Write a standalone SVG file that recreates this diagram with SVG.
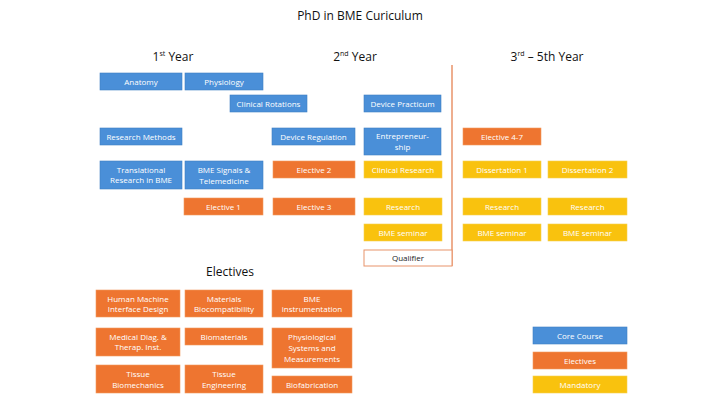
<svg xmlns="http://www.w3.org/2000/svg" width="720" height="405" viewBox="0 0 720 405">
<style>
text{font-family:"Open Sans","Liberation Sans",sans-serif;}
.b rect{fill:#4a8fd8;stroke:#3f7fc4;stroke-width:0.6}
.o rect{fill:#ee7530;stroke:#f29a60;stroke-width:0.6}
.y rect{fill:#f9c20e;stroke:#f5d050;stroke-width:0.6}
.n text{fill:#fff;font-size:8px;text-anchor:middle}
.h{font-size:12px;fill:#111;text-anchor:middle}
</style>
<rect width="720" height="405" fill="#fff"/>
<text x="360" y="20" class="h" style="font-size:12px">PhD in BME Curiculum</text>
<text x="173" y="61" class="h">1<tspan font-size="7" dy="-5">st</tspan><tspan dy="5">  Year</tspan></text>
<text x="355" y="61" class="h">2<tspan font-size="7" dy="-5">nd</tspan><tspan dy="5">  Year</tspan></text>
<text x="547" y="61" class="h">3<tspan font-size="7" dy="-5">rd</tspan><tspan dy="5"> – 5th Year</tspan></text>
<text x="230" y="276" class="h">Electives</text>
<g id="connectors"><line x1="452" y1="65" x2="452" y2="266" stroke="#e8936a" stroke-width="1.5"/></g>
<g id="anatomy" class="n b"><rect x="100" y="73" width="82" height="17"/><text x="141" y="84.5">Anatomy</text></g>
<g id="physiology" class="n b"><rect x="185" y="73" width="78" height="17"/><text x="224" y="84.5">Physiology</text></g>
<g id="clinrot" class="n b"><rect x="230" y="95" width="77" height="17"/><text x="268.5" y="106.5">Clinical Rotations</text></g>
<g id="devprac" class="n b"><rect x="364" y="95" width="77" height="17"/><text x="402.5" y="106.5">Device Practicum</text></g>
<g id="resmeth" class="n b"><rect x="100" y="128" width="82" height="17"/><text x="141" y="139.5">Research Methods</text></g>
<g id="devreg" class="n b"><rect x="272" y="128" width="83" height="17"/><text x="313.5" y="139.5">Device Regulation</text></g>
<g id="entre" class="n b"><rect x="364" y="128" width="77" height="27"/><text x="402.5" y="139">Entrepreneur-</text><text x="402.5" y="150">ship</text></g>
<g id="transl" class="n b"><rect x="100" y="161" width="82" height="28"/><text x="141" y="173">Translational</text><text x="141" y="183">Research in BME</text></g>
<g id="signals" class="n b"><rect x="185" y="161" width="78" height="28"/><text x="224" y="173">BME Signals &amp;</text><text x="224" y="184">Telemedicine</text></g>
<g id="el2" class="n o"><rect x="273" y="161" width="82" height="17"/><text x="314" y="172.5">Elective 2</text></g>
<g id="clinres" class="n y"><rect x="364" y="161" width="78" height="17"/><text x="403" y="172.5">Clinical  Research</text></g>
<g id="el1" class="n o"><rect x="184" y="198" width="79" height="17"/><text x="223.5" y="209.5">Elective 1</text></g>
<g id="el3" class="n o"><rect x="273" y="198" width="82" height="17"/><text x="314" y="209.5">Elective 3</text></g>
<g id="res2" class="n y"><rect x="364" y="198" width="78" height="17"/><text x="403" y="209.5">Research</text></g>
<g id="sem2" class="n y"><rect x="364" y="224" width="78" height="17"/><text x="403" y="235.5">BME seminar</text></g>
<g id="qual"><rect x="364" y="250" width="88" height="16" fill="#fff" stroke="#e8936a" stroke-width="1"/><text x="408" y="261" font-size="8" text-anchor="middle" fill="#222">Qualifier</text></g>
<g id="el47" class="n o"><rect x="463" y="128" width="78" height="17"/><text x="502" y="139.5">Elective 4-7</text></g>
<g id="diss1" class="n y"><rect x="463" y="161" width="78" height="17"/><text x="502" y="172.5">Dissertation 1</text></g>
<g id="diss2" class="n y"><rect x="548" y="161" width="79" height="17"/><text x="587.5" y="172.5">Dissertation 2</text></g>
<g id="res3" class="n y"><rect x="463" y="198" width="78" height="17"/><text x="502" y="209.5">Research</text></g>
<g id="res4" class="n y"><rect x="548" y="198" width="79" height="17"/><text x="587.5" y="209.5">Research</text></g>
<g id="sem3" class="n y"><rect x="463" y="224" width="78" height="17"/><text x="502" y="235.5">BME seminar</text></g>
<g id="sem4" class="n y"><rect x="548" y="224" width="79" height="17"/><text x="587.5" y="235.5">BME seminar</text></g>
<g id="hmi" class="n o"><rect x="96" y="290" width="84" height="27"/><text x="138" y="302">Human Machine</text><text x="138" y="312">Interface Design</text></g>
<g id="matbio" class="n o"><rect x="185" y="290" width="78" height="27"/><text x="224" y="302">Materials</text><text x="224" y="312">Biocompatibility</text></g>
<g id="bmeinst" class="n o"><rect x="272" y="290" width="80" height="27"/><text x="312" y="302">BME</text><text x="312" y="312">instrumentation</text></g>
<g id="meddiag" class="n o"><rect x="96" y="328" width="84" height="28"/><text x="138" y="340">Medical Diag. &amp;</text><text x="138" y="350">Therap. Inst.</text></g>
<g id="biomat" class="n o"><rect x="185" y="328" width="78" height="17"/><text x="224" y="339.5">Biomaterials</text></g>
<g id="physsys" class="n o"><rect x="272" y="328" width="80" height="40"/><text x="312" y="340">Physiological</text><text x="312" y="351">Systems and</text><text x="312" y="362">Measurements</text></g>
<g id="tisbio" class="n o"><rect x="96" y="365" width="84" height="28"/><text x="138" y="377">Tissue</text><text x="138" y="388">Biomechanics</text></g>
<g id="tiseng" class="n o"><rect x="185" y="365" width="78" height="28"/><text x="224" y="377">Tissue</text><text x="224" y="388">Engineering</text></g>
<g id="biofab" class="n o"><rect x="272" y="376" width="80" height="17"/><text x="312" y="387.5">Biofabrication</text></g>
<g id="lcore" class="n b"><rect x="533" y="327" width="94" height="17"/><text x="580" y="338.5">Core Course</text></g>
<g id="lelec" class="n o"><rect x="533" y="352" width="94" height="17"/><text x="580" y="363.5">Electives</text></g>
<g id="lmand" class="n y"><rect x="533" y="376" width="94" height="17"/><text x="580" y="387.5">Mandatory</text></g>
</svg>
